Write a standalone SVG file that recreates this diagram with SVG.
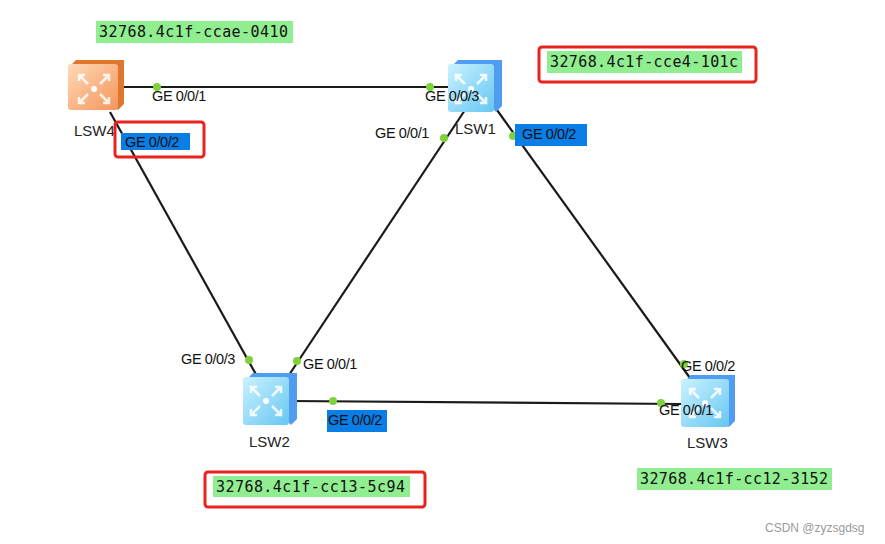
<svg xmlns="http://www.w3.org/2000/svg" width="885" height="544" viewBox="0 0 885 544">
<style>
.l{font-family:"Liberation Sans",Arial,sans-serif;font-size:14.5px;fill:#111;letter-spacing:-0.4px}
.n{font-family:"Liberation Sans",Arial,sans-serif;font-size:15px;fill:#222}
.m{font-family:"DejaVu Sans Mono","Liberation Mono",monospace;font-size:15px;fill:#111}
.g{fill:#90ee90}
.b{fill:#0a7de6}
.r{fill:none;stroke:#e8231e;stroke-width:3}
.c{stroke:#1a1a1a;stroke-width:2.2;fill:none}
.d{fill:#7ed23a}
.ar{stroke:#fff;stroke-width:2.5;fill:none;opacity:.85}
</style>
<defs>
<linearGradient id="bf" x1="0" y1="0" x2="1" y2="1"><stop offset="0" stop-color="#c9f2ff"/><stop offset="1" stop-color="#67c6f2"/></linearGradient>
<linearGradient id="of" x1="0" y1="0" x2="1" y2="1"><stop offset="0" stop-color="#ffd9b8"/><stop offset="1" stop-color="#f4955a"/></linearGradient>
<g id="arrows">
<path class="ar" d="M9 12 l9 9 M9 18 v-6 h6 M39 12 l-9 9 M39 18 v-6 h-6 M9 40 l9 -9 M9 34 v6 h6 M39 40 l-9 -9 M39 34 v6 h-6"/>
<circle cx="24" cy="26" r="3" fill="#fff"/>
</g>
</defs>
<rect width="885" height="544" fill="#fff"/>
<g id="connectors">
<line class="c" x1="124" y1="87" x2="448" y2="87"/>
<line class="c" x1="110" y1="112" x2="258" y2="378"/>
<line class="c" x1="465" y1="110" x2="287" y2="378"/>
<line class="c" x1="497" y1="110" x2="690" y2="378"/>
<line class="c" x1="290" y1="401" x2="681" y2="404"/>
<g class="d"><circle cx="157" cy="87" r="4"/><circle cx="430" cy="87" r="4"/><circle cx="444" cy="138" r="4"/><circle cx="513" cy="136" r="4"/><circle cx="249" cy="360" r="4"/><circle cx="297" cy="361" r="4"/><circle cx="333" cy="401" r="4"/><circle cx="661" cy="403" r="4"/><circle cx="684" cy="364" r="4"/><circle cx="125" cy="140" r="4"/></g>
</g>
<g id="LSW4">
<path d="M70 66 l6 -6 h48 v44 l-6 6 z" fill="#e0772f"/>
<rect x="68" y="64" width="50" height="46" rx="3" fill="url(#of)"/>
<use href="#arrows" x="70" y="63"/>
<text class="n" x="74" y="136">LSW4</text>
</g>
<g id="LSW1">
<path d="M452 66 l6 -6 h44 v46 l-6 6 z" fill="#4f9cf0"/>
<rect x="448" y="64" width="46" height="48" rx="3" fill="url(#bf)"/>
<use href="#arrows" x="447" y="63"/>
<text class="n" x="455" y="134">LSW1</text>
</g>
<g id="LSW2">
<path d="M247 379 l6 -6 h44 v46 l-6 6 z" fill="#4f9cf0"/>
<rect x="243" y="377" width="46" height="48" rx="3" fill="url(#bf)"/>
<use href="#arrows" x="242" y="375"/>
<text class="n" x="249" y="447">LSW2</text>
</g>
<g id="LSW3">
<path d="M685 381 l6 -6 h44 v46 l-6 6 z" fill="#4f9cf0"/>
<rect x="681" y="379" width="48" height="48" rx="3" fill="url(#bf)"/>
<use href="#arrows" x="681" y="377"/>
<text class="n" x="687" y="448">LSW3</text>
</g>
<g id="labels">
<rect class="g" x="96" y="21" width="197" height="22"/><text class="m" x="99" y="37" textLength="189">32768.4c1f-ccae-0410</text>
<rect class="g" x="547" y="51" width="195" height="22"/><text class="m" x="550" y="67" textLength="188">32768.4c1f-cce4-101c</text>
<rect class="r" x="539" y="47" width="217" height="35" rx="3"/>
<rect class="g" x="213" y="476" width="197" height="21"/><text class="m" x="216" y="492" textLength="189">32768.4c1f-cc13-5c94</text>
<rect class="r" x="205" y="472" width="220" height="35" rx="3"/>
<rect class="g" x="637" y="468" width="195" height="22"/><text class="m" x="640" y="484" textLength="188">32768.4c1f-cc12-3152</text>
<rect class="b" x="121" y="133" width="69" height="17"/>
<rect class="r" x="115" y="122" width="89" height="35" rx="3"/>
<rect class="b" x="515" y="124" width="72" height="22"/>
<rect class="b" x="327" y="410" width="60" height="22"/>
<text class="l" x="152" y="101">GE 0/0/1</text>
<text class="l" x="425" y="101">GE 0/0/3</text>
<text class="l" x="375" y="138">GE 0/0/1</text>
<text class="l" x="522" y="139">GE 0/0/2</text>
<text class="l" x="125" y="147">GE 0/0/2</text>
<text class="l" x="181" y="364">GE 0/0/3</text>
<text class="l" x="303" y="369">GE 0/0/1</text>
<text class="l" x="328" y="425">GE 0/0/2</text>
<text class="l" x="681" y="371">GE 0/0/2</text>
<text class="l" x="659" y="415">GE 0/0/1</text>
<text x="765" y="532" style="font-family:'Liberation Sans',Arial,sans-serif;font-size:12px;fill:#999">CSDN @zyzsgdsg</text>
</g>
</svg>
